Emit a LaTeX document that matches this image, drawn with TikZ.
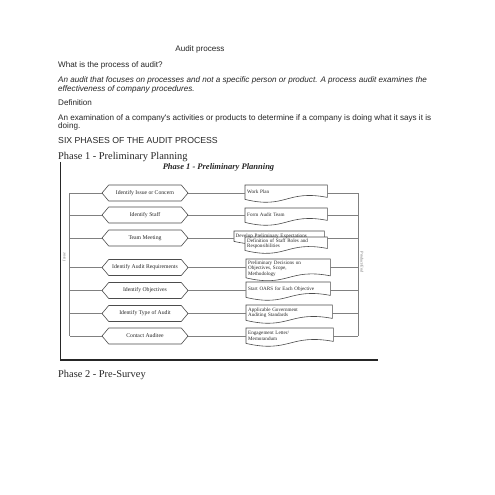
\documentclass[tikz,border=0pt]{standalone}
\usepackage{fontspec}
\setmainfont{Liberation Serif}
\newfontfamily\arialf{Liberation Sans}
\usetikzlibrary{shapes.symbols,calc,backgrounds}
\newcommand\docdraw[1]{%
  \path[docline] (#1.south west) -- (#1.north west) -- (#1.north east) -- ([yshift=2bp]#1.south east)
    .. controls ($(#1.south)+(0,10bp)$) and ($(#1.south)+(0,-10bp)$) .. (#1.south west) -- cycle;}
\begin{document}
\begin{tikzpicture}[x=1bp,y=-1bp,
  body/.style={font=\arialf\fontsize{8.1bp}{8.5bp}\selectfont, anchor=west, inner sep=0, text=black!85},
  hexbox/.style={signal, signal to=west and east, signal pointer angle=100, draw=black!70, line width=0.6bp,
    minimum width=86bp, minimum height=16bp, inner sep=0, text=black!85, font=\fontsize{5.7bp}{6bp}\selectfont},
  docbox/.style={anchor=north west, inner xsep=2bp, inner ysep=1.5bp, align=left, text=black!85,
    font=\fontsize{5.1bp}{5.4bp}\selectfont},
  docline/.style={draw=black!70, line width=0.6bp, fill=white},
  link/.style={draw=black!50, line width=0.6bp},
  vlabel/.style={inner sep=0, text=black!60, font=\itshape\fontsize{4bp}{4bp}\selectfont},
]
\begin{scope}[on background layer]
  \fill[white] (0,0) rectangle (495,495);
\end{scope}
\useasboundingbox (0,0) rectangle (495,495);

% --- text above the diagram ---
\node[body, anchor=center] (title) at (200,49) {Audit process};
\node[body] (q) at (58,65) {What is the process of audit?};
\node[body, align=left, font=\arialf\itshape\fontsize{8.1bp}{8.3bp}\selectfont] (ans) at (58,85)
  {An audit that focuses on processes and not a specific person or product. A process audit examines the\\effectiveness of company procedures.};
\node[body] (defh) at (58,103) {Definition};
\node[body, align=left, font=\arialf\fontsize{8.1bp}{8.5bp}\selectfont] (def) at (58,122.5)
  {An examination of a company's activities or products to determine if a company is doing what it says it is\\doing.};
\node[body, font=\arialf\fontsize{8.7bp}{10bp}\selectfont] (six) at (58,141) {SIX PHASES OF THE AUDIT PROCESS};
\node[anchor=west, inner sep=0, text=black!85, font=\fontsize{10.4bp}{12bp}\selectfont] (p1) at (58,157) {Phase 1 - Preliminary Planning};
\node[anchor=west, inner sep=0, text=black!85, font=\fontsize{10.4bp}{12bp}\selectfont] (p2) at (58,375) {Phase 2 - Pre-Survey};

% --- diagram frame ---
\coordinate (ft) at (60.5,162);
\coordinate (fb) at (60.5,360);
\coordinate (fr) at (378,360);
\draw[line width=1.4bp, black!85] (ft) -- (fb) -- (fr);
\node[inner sep=0, text=black!85, font=\bfseries\itshape\fontsize{8.5bp}{10bp}\selectfont] (p1t) at (218.5,167) {Phase 1 - Preliminary Planning};

% buses
\coordinate (bl1) at (69.5,193);
\coordinate (bl2) at (69.5,336);
\coordinate (br1) at (358,193);
\coordinate (br2) at (358,336);
\draw[link] (bl1) -- (bl2);
\draw[link] (br1) -- (br2);
\node[vlabel, rotate=90] (lin) at (64,257) {Issue};
\node[vlabel, rotate=-90] (rout) at (362,262) {Product/End};

% hexagons
\node[hexbox] (h1) at (145,193) {Identify Issue or Concern};
\node[hexbox] (h2) at (145,215) {Identify Staff};
\node[hexbox] (h3) at (145,238) {Team Meeting};
\node[hexbox] (h4) at (145,267.5) {Identify Audit Requirements};
\node[hexbox] (h5) at (145,290.5) {Identify Objectives};
\node[hexbox] (h6) at (145,313.5) {Identify Type of Audit};
\node[hexbox] (h7) at (145,336) {Contact Auditee};

% documents
\node[docbox, text width=78bp, minimum height=14bp] (d1) at (245,185) {Work Plan};
\node[docbox, text width=78bp, minimum height=14bp] (d2) at (245,208) {Form Audit Team};
\node[docbox, inner xsep=1.5bp, text width=87bp, minimum height=10bp] (d3a) at (234,231) {Develop Preliminary Expectations};
\node[docbox, text width=78bp, minimum height=13bp] (d3b) at (245,237) {Definition of Staff Roles and\\Responsibilities};
\node[docbox, text width=80bp, minimum height=16bp] (d4) at (246,259) {Preliminary Decisions on\\Objectives, Scope,\\Methodology};
\node[docbox, text width=80bp, minimum height=15bp] (d5) at (246,282) {Start OARS for Each Objective};
\node[docbox, text width=82bp, minimum height=15bp] (d6) at (246,305) {Applicable Government\\Auditing Standards};
\node[docbox, text width=83bp, minimum height=15bp] (d7) at (246,328) {Engagement Letter/\\Memorandum};
\begin{scope}[on background layer]
  \foreach \d in {d1,d2,d3a,d3b,d4,d5,d6,d7} {\docdraw{\d}}
\end{scope}

% connectors
\foreach \h/\d in {h1/d1,h2/d2,h3/d3a,h4/d4,h5/d5,h6/d6,h7/d7} {
  \draw[link] (\h.west) -- (\h.west -| bl1);
  \draw[link] (\h.east) -- (\h.east -| \d.west);
}
\foreach \h/\d in {h1/d1,h2/d2,h3/d3b,h4/d4,h5/d5,h6/d6,h7/d7} {
  \draw[link] (\h.east -| \d.east) -- (\h.east -| br1);
}
\end{tikzpicture}
\end{document}
